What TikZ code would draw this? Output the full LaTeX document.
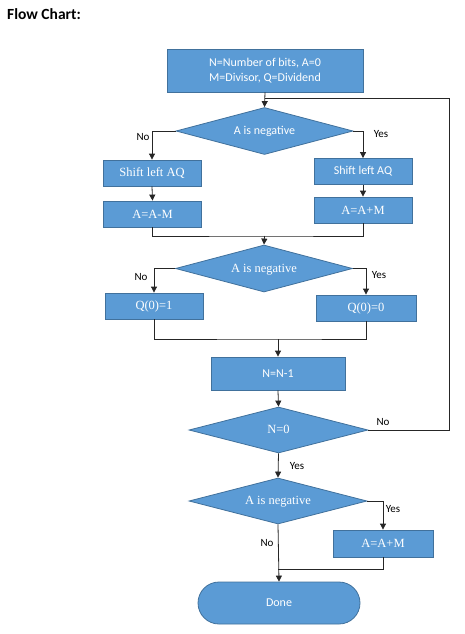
\documentclass[tikz,border=0pt]{standalone}
\usepackage{fontspec}
\setmainfont{Carlito}
\newfontfamily\tnr{Liberation Serif}
\usetikzlibrary{shapes.geometric,arrows.meta}
\definecolor{boxblue}{HTML}{5B9BD5}
\definecolor{boxedge}{HTML}{41719C}
\definecolor{linec}{HTML}{262626}
\tikzset{
  base/.style={fill=boxblue,draw=boxedge,line width=0.8pt,text=white,inner sep=0pt,font=\fontsize{12}{15}\selectfont},
  procbox/.style={base,rectangle,minimum width=98pt,minimum height=26pt},
  serif/.style={font=\fontsize{12.5}{15}\selectfont\tnr},
  decide/.style={base,diamond,shape aspect=3.7,minimum width=177pt,minimum height=47pt,text height=8pt,text depth=1pt},
  arr/.style={draw=linec,line width=0.8pt,-{Triangle[length=6pt,width=6pt]}},
  ln/.style={draw=linec,line width=0.8pt},
  lbl/.style={font=\fontsize{11}{13}\selectfont,text=black,inner sep=0pt}
}
\begin{document}
\begin{tikzpicture}[x=1pt,y=-1pt]
\useasboundingbox (0,0) rectangle (465,634);
\node[anchor=west,font=\fontsize{15.5}{18}\selectfont\bfseries,inner sep=0pt] (title) at (7,14) {Flow Chart:};

\node[base,rectangle,minimum width=196pt,minimum height=43pt,align=center] (init) at (265,70.5) {N=Number of bits, A=0\\M=Divisor, Q=Dividend};
\node[decide] (d1) at (264.5,131) {A is negative};
\node[procbox,serif] (s1l) at (152,173) {Shift left AQ};
\node[procbox] (s1r) at (363,171.5) {Shift left AQ};
\node[procbox,serif] (a1l) at (152.5,214) {A=A-M};
\node[procbox,serif] (a1r) at (363,210) {A=A+M};
\node[decide,serif] (d2) at (264,268.5) {A is negative};
\node[procbox,serif] (q1) at (154,306) {Q(0)=1};
\node[procbox,serif,minimum width=100pt] (q0) at (366,308) {Q(0)=0};
\node[procbox,minimum width=134pt,minimum height=33pt] (n1) at (278,373.5) {N=N-1};
\node[decide,serif,minimum width=179pt,minimum height=46pt] (d3) at (278.5,430) {N=0};
\node[decide,serif,minimum width=178pt,minimum height=46pt] (d4) at (278,501) {A is negative};
\node[procbox,serif,minimum width=100pt,minimum height=27pt] (a2) at (383,543.5) {A=A+M};
\node[base,rectangle,rounded corners=21pt,minimum width=162pt,minimum height=42pt] (done) at (279,603) {Done};

\coordinate (j1) at (265,98);
\coordinate (fb) at (449,98);
\coordinate (m1) at (264.5,236);
\coordinate (m2) at (278,339);
\coordinate (m3) at (278,569);

\draw[arr] (init.south) -- (d1.north);
\draw[arr] (d1.west) -| (s1l.north);
\draw[arr] (d1.east) -| (s1r.north);
\node[lbl] (no1) at (143,137) {No};
\node[lbl] (yes1) at (381,134) {Yes};
\draw[arr] (s1l.south) -- (a1l.north);
\draw[arr] (s1r.south) -- (a1r.north);
\draw[ln] (a1l.south) |- (m1) -| (a1r.south);
\draw[arr] (m1) -- (d2.north);

\draw[arr] (d2.west) -| (q1.north);
\draw[arr] (d2.east) -| (q0.north);
\node[lbl] (no2) at (141,277) {No};
\node[lbl] (yes2) at (379,275) {Yes};
\draw[ln] (q1.south) |- (m2) -| (q0.south);
\draw[arr] (m2) -- (n1.north);

\draw[arr] (n1.south) -- (d3.north);
\draw[ln] (d3.east) -| (fb) -- (j1);
\node[lbl] (no3) at (383,422) {No};
\draw[arr] (d3.south) -- (d4.north);
\node[lbl] (yes3) at (297,466) {Yes};

\draw[arr] (d4.east) -| (a2.north);
\node[lbl] (yes4) at (393,509) {Yes};
\draw[arr] (d4.south) -- (done.north);
\node[lbl] (no4) at (267,543) {No};
\draw[ln] (a2.south) |- (m3);
\end{tikzpicture}
\end{document}
